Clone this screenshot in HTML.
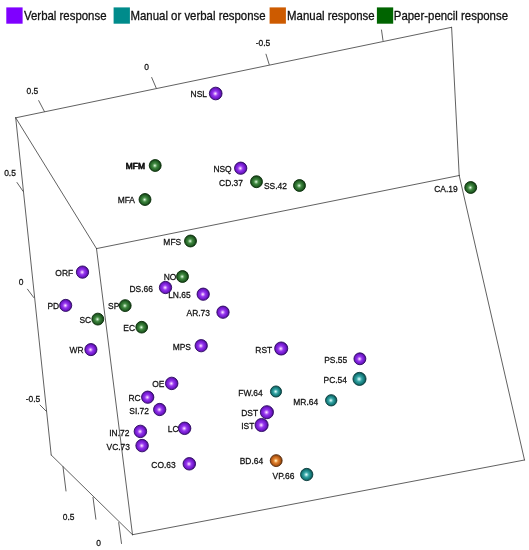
<!DOCTYPE html>
<html><head><meta charset="utf-8"><title>3D scatter</title>
<style>
html,body{margin:0;padding:0;background:#fff;}
body{width:529px;height:550px;overflow:hidden;}
svg{display:block;}
text{font-family:"Liberation Sans",Arial,Helvetica,sans-serif;fill:#111;stroke:#111;stroke-width:0.28px;}
.lg{font-size:12px;}
.pl{font-size:9.50px;text-anchor:end;}
.ax{font-size:9.50px;text-anchor:middle;}
.ln{stroke:#383838;stroke-width:0.8;fill:none;stroke-linecap:round;}
</style></head><body>
<svg width="529" height="550" viewBox="0 0 529 550">
<defs>
<radialGradient id="gp" cx="0.47" cy="0.51" r="0.54"><stop offset="0" stop-color="#fdeeff"/><stop offset="0.08" stop-color="#eec4ff"/><stop offset="0.22" stop-color="#c27cf8"/><stop offset="0.38" stop-color="#9436ec"/><stop offset="0.6" stop-color="#7e22da"/><stop offset="0.8" stop-color="#6615b8"/><stop offset="0.91" stop-color="#4a0e92"/><stop offset="1" stop-color="#320a6c"/></radialGradient>
<radialGradient id="gt" cx="0.47" cy="0.51" r="0.54"><stop offset="0" stop-color="#f2ffff"/><stop offset="0.08" stop-color="#c4f0f0"/><stop offset="0.22" stop-color="#7ccccc"/><stop offset="0.38" stop-color="#36a4a4"/><stop offset="0.6" stop-color="#1f8a8a"/><stop offset="0.8" stop-color="#126c6c"/><stop offset="0.91" stop-color="#0c5050"/><stop offset="1" stop-color="#073838"/></radialGradient>
<radialGradient id="go" cx="0.47" cy="0.51" r="0.54"><stop offset="0" stop-color="#fffbe8"/><stop offset="0.08" stop-color="#ffe4b0"/><stop offset="0.22" stop-color="#f2ae62"/><stop offset="0.38" stop-color="#dc7e2e"/><stop offset="0.6" stop-color="#c6661c"/><stop offset="0.8" stop-color="#a05010"/><stop offset="0.91" stop-color="#7a3c0c"/><stop offset="1" stop-color="#562808"/></radialGradient>
<radialGradient id="gg" cx="0.47" cy="0.51" r="0.54"><stop offset="0" stop-color="#f0fff0"/><stop offset="0.08" stop-color="#c0e6c0"/><stop offset="0.22" stop-color="#78b078"/><stop offset="0.38" stop-color="#3e863e"/><stop offset="0.6" stop-color="#2c6e2e"/><stop offset="0.8" stop-color="#1e5420"/><stop offset="0.91" stop-color="#143e16"/><stop offset="1" stop-color="#0a280c"/></radialGradient>
</defs>
<rect width="529" height="550" fill="#fff"/>
<g>
<rect x="6.3" y="7.4" width="16.3" height="16.3" fill="#7f00ff"/><text class="lg" transform="translate(24.0,20.0) scale(0.9520,1)">Verbal response</text>
<rect x="113.6" y="7.4" width="16.3" height="16.3" fill="#008b8b"/><text class="lg" transform="translate(130.5,20.0) scale(0.9520,1)">Manual or verbal response</text>
<rect x="269.6" y="7.4" width="16.3" height="16.3" fill="#cd5b00"/><text class="lg" transform="translate(287.1,20.0) scale(0.9520,1)">Manual response</text>
<rect x="376.9" y="7.4" width="16.3" height="16.3" fill="#006400"/><text class="lg" transform="translate(393.8,20.0) scale(0.9520,1)">Paper-pencil response</text>
</g>
<g class="ln">
<line x1="15.7" y1="117.8" x2="451.6" y2="27.3"/>
<line x1="15.7" y1="117.8" x2="96.5" y2="248.6"/>
<line x1="15.7" y1="117.8" x2="51.2" y2="455.0"/>
<line x1="451.6" y1="27.3" x2="459.2" y2="175.5"/>
<line x1="96.5" y1="248.6" x2="459.2" y2="175.5"/>
<line x1="96.5" y1="248.6" x2="132.5" y2="534.7"/>
<line x1="459.2" y1="175.5" x2="524.5" y2="460.0"/>
<line x1="132.5" y1="534.7" x2="524.5" y2="460.0"/>
<line x1="51.2" y1="455.0" x2="132.5" y2="534.7"/>
<line x1="44.4" y1="111.5" x2="38.7" y2="100.6"/>
<line x1="156.2" y1="88.0" x2="151.7" y2="77.5"/>
<line x1="269.2" y1="64.5" x2="266.0" y2="54.2"/>
<line x1="383.0" y1="40.5" x2="381.5" y2="30.0"/>
<line x1="23.0" y1="191.2" x2="17.0" y2="182.5"/>
<line x1="33.7" y1="297.5" x2="27.5" y2="289.2"/>
<line x1="46.2" y1="411.2" x2="40.0" y2="405.0"/>
<line x1="63.0" y1="466.7" x2="66.0" y2="491.0"/>
<line x1="93.0" y1="497.4" x2="95.9" y2="519.2"/>
<line x1="118.7" y1="522.6" x2="121.5" y2="543.5"/>
</g>
<g>
<text class="ax" transform="translate(32.4,94.2) scale(0.8895,1)">0.5</text>
<text class="ax" transform="translate(146.5,69.5) scale(0.8895,1)">0</text>
<text class="ax" transform="translate(263.0,45.7) scale(0.8895,1)">-0.5</text>
<text class="ax" transform="translate(10.0,176.2) scale(0.8895,1)">0.5</text>
<text class="ax" transform="translate(21.2,284.7) scale(0.8895,1)">0</text>
<text class="ax" transform="translate(33.0,401.7) scale(0.8895,1)">-0.5</text>
<text class="ax" transform="translate(68.7,519.7) scale(0.8895,1)">0.5</text>
<text class="ax" transform="translate(98.5,545.7) scale(0.8895,1)">0</text>
</g>
<g>
<text class="pl" transform="translate(207.0,97.2) scale(0.8895,1)">NSL</text>
<text class="pl" transform="translate(145.2,169.0) scale(0.8895,1)">MFM</text>
<text class="pl" transform="translate(144.7,169.0) scale(0.8895,1)">MFM</text>
<text class="pl" transform="translate(135.0,203.0) scale(0.8895,1)">MFA</text>
<text class="pl" transform="translate(231.7,172.2) scale(0.8895,1)">NSQ</text>
<text class="pl" transform="translate(243.0,185.7) scale(0.8895,1)">CD.37</text>
<text class="pl" transform="translate(287.0,189.2) scale(0.8895,1)">SS.42</text>
<text class="pl" transform="translate(457.7,191.5) scale(0.8895,1)">CA.19</text>
<text class="pl" transform="translate(181.2,244.5) scale(0.8895,1)">MFS</text>
<text class="pl" transform="translate(73.2,275.7) scale(0.8895,1)">ORF</text>
<text class="pl" transform="translate(176.3,280.0) scale(0.8895,1)">NO</text>
<text class="pl" transform="translate(190.7,298.2) scale(0.8895,1)">LN.65</text>
<text class="pl" transform="translate(153.0,291.7) scale(0.8895,1)">DS.66</text>
<text class="pl" transform="translate(210.0,316.2) scale(0.8895,1)">AR.73</text>
<text class="pl" transform="translate(59.2,309.2) scale(0.8895,1)">PD</text>
<text class="pl" transform="translate(119.3,309.4) scale(0.8895,1)">SP</text>
<text class="pl" transform="translate(91.2,322.7) scale(0.8895,1)">SC</text>
<text class="pl" transform="translate(135.0,331.2) scale(0.8895,1)">EC</text>
<text class="pl" transform="translate(83.5,353.2) scale(0.8895,1)">WR</text>
<text class="pl" transform="translate(191.0,349.7) scale(0.8895,1)">MPS</text>
<text class="pl" transform="translate(272.2,352.5) scale(0.8895,1)">RST</text>
<text class="pl" transform="translate(347.2,363.0) scale(0.8895,1)">PS.55</text>
<text class="pl" transform="translate(347.0,382.5) scale(0.8895,1)">PC.54</text>
<text class="pl" transform="translate(164.5,387.2) scale(0.8895,1)">OE</text>
<text class="pl" transform="translate(262.7,395.7) scale(0.8895,1)">FW.64</text>
<text class="pl" transform="translate(140.7,401.0) scale(0.8895,1)">RC</text>
<text class="pl" transform="translate(318.2,404.5) scale(0.8895,1)">MR.64</text>
<text class="pl" transform="translate(149.0,413.5) scale(0.8895,1)">SI.72</text>
<text class="pl" transform="translate(258.1,416.2) scale(0.8895,1)">DST</text>
<text class="pl" transform="translate(254.4,428.7) scale(0.8895,1)">IST</text>
<text class="pl" transform="translate(178.5,432.2) scale(0.8895,1)">LC</text>
<text class="pl" transform="translate(129.4,435.5) scale(0.8895,1)">IN.72</text>
<text class="pl" transform="translate(130.0,449.5) scale(0.8895,1)">VC.73</text>
<text class="pl" transform="translate(263.2,464.2) scale(0.8895,1)">BD.64</text>
<text class="pl" transform="translate(175.7,467.7) scale(0.8895,1)">CO.63</text>
<text class="pl" transform="translate(294.5,478.5) scale(0.8895,1)">VP.66</text>
</g>
<g>
<circle cx="215.7" cy="93.5" r="6.35" fill="url(#gp)" stroke="#2e0864" stroke-opacity="1" stroke-width="0.9"/>
<circle cx="155.2" cy="165.5" r="5.95" fill="url(#gg)" stroke="#062c06" stroke-opacity="1" stroke-width="0.9"/>
<circle cx="145.0" cy="199.5" r="5.95" fill="url(#gg)" stroke="#062c06" stroke-opacity="1" stroke-width="0.9"/>
<circle cx="240.7" cy="168.2" r="6.15" fill="url(#gp)" stroke="#2e0864" stroke-opacity="1" stroke-width="0.9"/>
<circle cx="256.5" cy="181.7" r="5.95" fill="url(#gg)" stroke="#062c06" stroke-opacity="1" stroke-width="0.9"/>
<circle cx="299.5" cy="185.5" r="5.95" fill="url(#gg)" stroke="#062c06" stroke-opacity="1" stroke-width="0.9"/>
<circle cx="470.7" cy="187.5" r="5.95" fill="url(#gg)" stroke="#062c06" stroke-opacity="1" stroke-width="0.9"/>
<circle cx="190.5" cy="241.0" r="5.95" fill="url(#gg)" stroke="#062c06" stroke-opacity="1" stroke-width="0.9"/>
<circle cx="82.5" cy="272.1" r="6.15" fill="url(#gp)" stroke="#2e0864" stroke-opacity="1" stroke-width="0.9"/>
<circle cx="182.5" cy="276.5" r="5.95" fill="url(#gg)" stroke="#062c06" stroke-opacity="1" stroke-width="0.9"/>
<circle cx="203.2" cy="294.2" r="6.15" fill="url(#gp)" stroke="#2e0864" stroke-opacity="1" stroke-width="0.9"/>
<circle cx="165.5" cy="287.5" r="6.15" fill="url(#gp)" stroke="#2e0864" stroke-opacity="1" stroke-width="0.9"/>
<circle cx="223.0" cy="312.2" r="6.15" fill="url(#gp)" stroke="#2e0864" stroke-opacity="1" stroke-width="0.9"/>
<circle cx="65.7" cy="305.4" r="6.05" fill="url(#gp)" stroke="#2e0864" stroke-opacity="1" stroke-width="0.9"/>
<circle cx="125.2" cy="305.6" r="5.95" fill="url(#gg)" stroke="#062c06" stroke-opacity="1" stroke-width="0.9"/>
<circle cx="97.8" cy="319.1" r="5.95" fill="url(#gg)" stroke="#062c06" stroke-opacity="1" stroke-width="0.9"/>
<circle cx="141.7" cy="327.2" r="5.85" fill="url(#gg)" stroke="#062c06" stroke-opacity="1" stroke-width="0.9"/>
<circle cx="90.9" cy="349.6" r="6.05" fill="url(#gp)" stroke="#2e0864" stroke-opacity="1" stroke-width="0.9"/>
<circle cx="201.2" cy="345.7" r="6.15" fill="url(#gp)" stroke="#2e0864" stroke-opacity="1" stroke-width="0.9"/>
<circle cx="281.2" cy="348.5" r="6.55" fill="url(#gp)" stroke="#2e0864" stroke-opacity="1" stroke-width="0.9"/>
<circle cx="359.9" cy="358.8" r="5.95" fill="url(#gp)" stroke="#2e0864" stroke-opacity="1" stroke-width="0.9"/>
<circle cx="359.5" cy="378.9" r="6.55" fill="url(#gt)" stroke="#083c3c" stroke-opacity="1" stroke-width="0.9"/>
<circle cx="171.7" cy="383.4" r="6.25" fill="url(#gp)" stroke="#2e0864" stroke-opacity="1" stroke-width="0.9"/>
<circle cx="276.0" cy="391.5" r="5.55" fill="url(#gt)" stroke="#083c3c" stroke-opacity="1" stroke-width="0.9"/>
<circle cx="147.7" cy="397.2" r="6.15" fill="url(#gp)" stroke="#2e0864" stroke-opacity="1" stroke-width="0.9"/>
<circle cx="331.2" cy="400.3" r="5.65" fill="url(#gt)" stroke="#083c3c" stroke-opacity="1" stroke-width="0.9"/>
<circle cx="159.7" cy="409.5" r="6.15" fill="url(#gp)" stroke="#2e0864" stroke-opacity="1" stroke-width="0.9"/>
<circle cx="266.9" cy="412.2" r="6.55" fill="url(#gp)" stroke="#2e0864" stroke-opacity="1" stroke-width="0.9"/>
<circle cx="261.6" cy="425.0" r="6.55" fill="url(#gp)" stroke="#2e0864" stroke-opacity="1" stroke-width="0.9"/>
<circle cx="184.6" cy="428.3" r="6.25" fill="url(#gp)" stroke="#2e0864" stroke-opacity="1" stroke-width="0.9"/>
<circle cx="140.4" cy="431.4" r="6.25" fill="url(#gp)" stroke="#2e0864" stroke-opacity="1" stroke-width="0.9"/>
<circle cx="142.1" cy="445.6" r="6.25" fill="url(#gp)" stroke="#2e0864" stroke-opacity="1" stroke-width="0.9"/>
<circle cx="276.2" cy="460.6" r="5.95" fill="url(#go)" stroke="#562808" stroke-opacity="1" stroke-width="0.9"/>
<circle cx="189.3" cy="463.8" r="6.25" fill="url(#gp)" stroke="#2e0864" stroke-opacity="1" stroke-width="0.9"/>
<circle cx="306.7" cy="474.5" r="6.15" fill="url(#gt)" stroke="#083c3c" stroke-opacity="1" stroke-width="0.9"/>
</g>
</svg>
</body></html>
